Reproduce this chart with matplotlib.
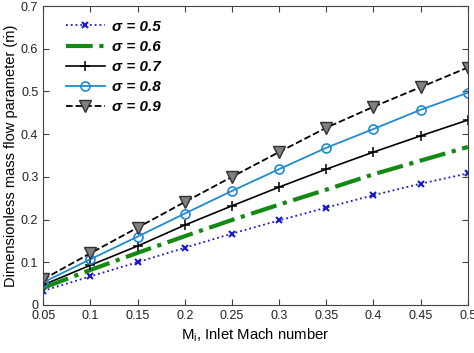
import matplotlib.pyplot as plt

plt.rcParams['font.family'] = ['Liberation Sans', 'DejaVu Sans']

mach = [0.05, 0.1, 0.15, 0.2, 0.25, 0.3, 0.35, 0.4, 0.45, 0.5]
s05 = [0.033, 0.067, 0.100, 0.134, 0.167, 0.198, 0.228, 0.257, 0.284, 0.308]
s06 = [0.040, 0.082, 0.122, 0.161, 0.199, 0.235, 0.270, 0.306, 0.338, 0.370]
s07 = [0.047, 0.093, 0.138, 0.187, 0.232, 0.276, 0.318, 0.358, 0.396, 0.433]
s08 = [0.053, 0.107, 0.160, 0.214, 0.267, 0.318, 0.368, 0.412, 0.457, 0.497]
s09 = [0.060, 0.121, 0.181, 0.241, 0.300, 0.358, 0.415, 0.464, 0.510, 0.556]
labels = ['σ = 0.5', 'σ = 0.6', 'σ = 0.7', 'σ = 0.8', 'σ = 0.9']
xticks = [0.05, 0.1, 0.15, 0.2, 0.25, 0.3, 0.35, 0.4, 0.45, 0.5]
xticklabels = ['0.05', '0.1', '0.15', '0.2', '0.25', '0.3', '0.35', '0.4', '0.45', '0.5']
yticks = [0, 0.1, 0.2, 0.3, 0.4, 0.5, 0.6, 0.7]
yticklabels = ['0', '0.1', '0.2', '0.3', '0.4', '0.5', '0.6', '0.7']

fig = plt.figure(figsize=(4.74, 3.53), dpi=100)
ax = fig.add_axes([0.091, 0.136, 0.896, 0.847])

ax.plot(mach, s05, ':', color='#1a1acc', lw=1.3, marker='x', ms=4.5, mew=1.5, label=labels[0])
ax.plot(mach, s06, '-.', color='#138a13', lw=3, label=labels[1])
ax.plot(mach, s07, '-', color='black', lw=1.2, marker='+', ms=7, mew=1.1, label=labels[2])
ax.plot(mach, s08, '-', color='#1f8ad0', lw=1.3, marker='o', ms=6.5, mfc='none', mew=1.2, label=labels[3])
ax.plot(mach, s09, '--', color='black', lw=1.3, marker='v', ms=8, mfc='#808080', mec='#303030', label=labels[4])

ax.set_xlim(0.05, 0.5)
ax.set_ylim(0, 0.7)
ax.set_xticks(xticks)
ax.set_xticklabels(xticklabels)
ax.set_yticks(yticks)
ax.set_yticklabels(yticklabels)
ax.tick_params(direction='in', top=True, right=True, labelsize=9, length=4, color='#444444',
               labelcolor='#222222')
for s in ax.spines.values():
    s.set_color('#444444')

ax.set_xlabel('M$_\\mathregular{i}$, Inlet Mach number', fontsize=10.7, labelpad=3)
ax.set_ylabel('Dimensionless mass flow parameter (ṁ)', fontsize=10.5, labelpad=2)

ax.legend(loc='upper left', bbox_to_anchor=(0.015, 1.01), frameon=False,
          prop={'weight': 'bold', 'style': 'italic', 'size': 11},
          handlelength=2.5, handletextpad=0.5, labelspacing=0.4,
          borderaxespad=0.3, borderpad=0.8)

fig.savefig('out.png', dpi=100)
